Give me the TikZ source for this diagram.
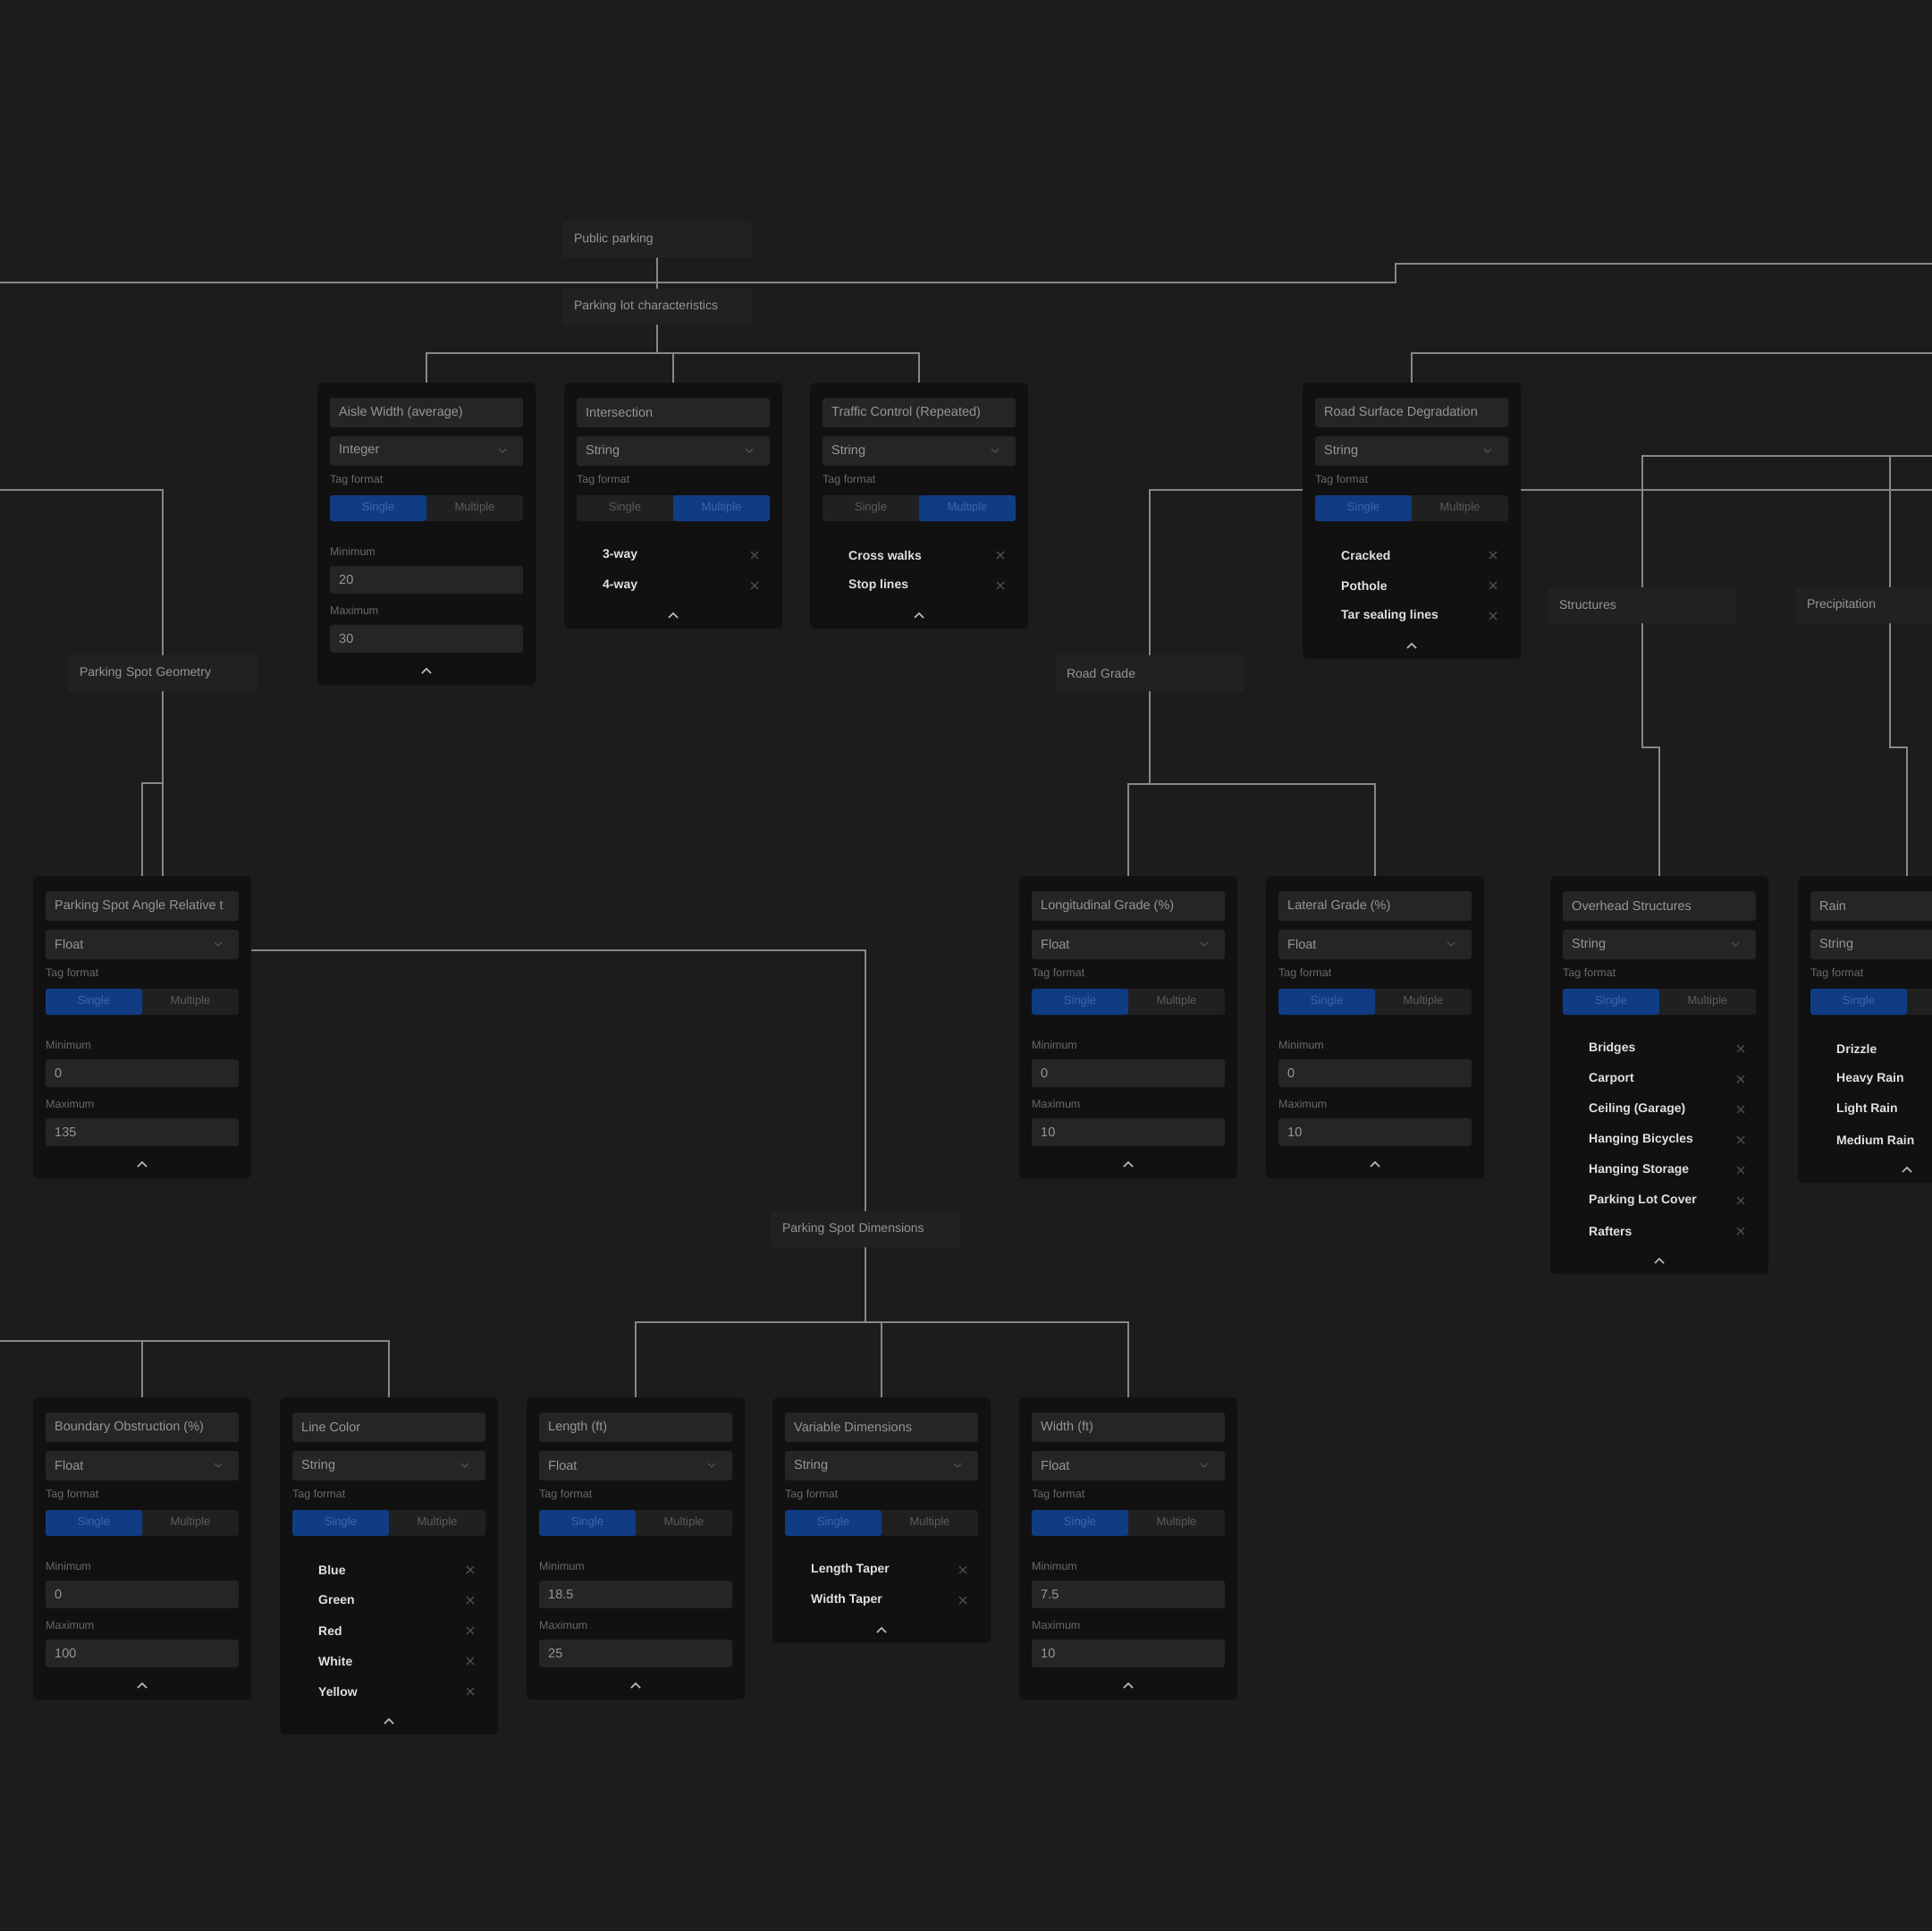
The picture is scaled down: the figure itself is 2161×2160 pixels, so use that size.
\documentclass[tikz,border=0pt]{standalone}
\usepackage{fontspec}
\setmainfont{Liberation Sans}
\usetikzlibrary{positioning,calc,backgrounds}
\definecolor{CanvasBg}{RGB}{28,28,28}
\definecolor{CardFill}{RGB}{17,17,17}
\definecolor{FieldFill}{RGB}{37,37,37}
\definecolor{ToggleFill}{RGB}{32,32,32}
\definecolor{SelBlue}{RGB}{16,60,132}
\definecolor{SelText}{RGB}{62,102,170}
\definecolor{OffText}{RGB}{92,92,92}
\definecolor{FieldText}{RGB}{150,150,150}
\definecolor{LabelGray}{RGB}{105,105,105}
\definecolor{ItemWhite}{RGB}{225,225,225}
\definecolor{MarkGray}{RGB}{80,80,80}
\definecolor{CaretGray}{RGB}{185,185,185}
\definecolor{WireGray}{RGB}{135,135,135}
\definecolor{GroupFill}{RGB}{33,33,33}
\definecolor{GroupBorder}{RGB}{44,44,44}
\tikzset{
  wire/.style={draw=WireGray, line width=2pt},
  groupbox/.style={draw=GroupBorder, fill=GroupFill, rounded corners=3pt,
                text width=186pt, align=left, inner xsep=12pt, inner ysep=0pt, minimum height=40pt,
                font=\fontsize{14}{16}\selectfont, text=FieldText},
  card/.style={fill=CardFill, rounded corners=6pt, minimum width=244pt, inner sep=0pt, anchor=north west},
  fieldtext/.style={font=\fontsize{14.5}{17}\selectfont, text=FieldText, anchor=west, inner sep=0pt},
  smalllabel/.style={font=\fontsize{12.5}{14}\selectfont, text=LabelGray, anchor=west, inner sep=0pt},
  toggletext/.style={font=\fontsize{13}{15}\selectfont, inner sep=0pt},
  itemtext/.style={font=\bfseries\fontsize{14}{16}\selectfont, text=ItemWhite, anchor=west, inner sep=0pt},
  xmark/.style={draw=MarkGray, line width=1.1pt},
  caretmark/.style={draw=CaretGray, line width=1.6pt},
}
% card top part: name, height, title, type, selected toggle (0 single, 1 multiple)
\newcommand{\cardhead}[5]{%
  \node[card, minimum height=#2 pt] (#1) at (0,0) {};
  \fill[FieldFill, rounded corners=3pt] (14,17) rectangle (230,50);
  \begin{scope}
    \clip (14,17) rectangle (226,50);
    \node[fieldtext] at (24,33.5) {#3};
  \end{scope}
  \fill[FieldFill, rounded corners=3pt] (14,60) rectangle (230,93);
  \node[fieldtext] at (24,76.5) {#4};
  \draw[xmark] (203,74) -- (207,78) -- (211,74);
  \node[smalllabel] at (14,109) {Tag format};
  \fill[ToggleFill, rounded corners=3pt] (14,126) rectangle (230,155);
  \fill[SelBlue, rounded corners=3pt] ({14+108*#5},126) rectangle ({122+108*#5},155);
  \ifnum#5=0
    \node[toggletext, text=SelText] at (68,140.5) {Single};
    \node[toggletext, text=OffText] at (176,140.5) {Multiple};
  \else
    \node[toggletext, text=OffText] at (68,140.5) {Single};
    \node[toggletext, text=SelText] at (176,140.5) {Multiple};
  \fi
}
% number card: name, left, top, title, type, minimum, maximum
\newcommand{\numcard}[7]{%
  \begin{scope}[shift={(#2,#3)}]
    \cardhead{#1}{338}{#4}{#5}{0}
    \node[smalllabel] at (14,189) {Minimum};
    \fill[FieldFill, rounded corners=3pt] (14,205) rectangle (230,236);
    \node[fieldtext] at (24,220.5) {#6};
    \node[smalllabel] at (14,255) {Maximum};
    \fill[FieldFill, rounded corners=3pt] (14,271) rectangle (230,302);
    \node[fieldtext] at (24,286.5) {#7};
    \draw[caretmark] (117,325) -- (122,320) -- (127,325);
  \end{scope}
}
% list card: name, left, top, title, type, selected toggle, entries
\newcommand{\listcard}[7]{%
  \gdef\nitems{0}%
  \foreach \entry in {#7}{\xdef\nitems{\the\numexpr\nitems+1\relax}}%
  \pgfmathsetmacro{\cardH}{207+34*\nitems}%
  \begin{scope}[shift={(#2,#3)}]
    \cardhead{#1}{\cardH}{#4}{#5}{#6}
    \foreach \entry [count=\i from 0] in {#7}{
      \node[itemtext] at (43,{193+34*\i}) {\entry};
      \draw[xmark] (209,{189+34*\i}) -- (217,{197+34*\i})
                   (209,{197+34*\i}) -- (217,{189+34*\i});
    }
    \draw[caretmark] (117,{195+34*\nitems}) -- (122,{190+34*\nitems}) -- (127,{195+34*\nitems});
  \end{scope}
}

\begin{document}
\begin{tikzpicture}[x=1pt, y=-1pt]

  \useasboundingbox (0,0) rectangle (2161,2160);
  \begin{scope}[on background layer]
    \fill[CanvasBg] (0,0) rectangle (2161,2160);
  \end{scope}

  % group labels
  \node[groupbox] (pubpark)   at (735,268)  {Public parking};
  \node[groupbox] (lotchar)   at (735,343)  {Parking lot characteristics};
  \node[groupbox] (psgeom)    at (182,753)  {Parking Spot Geometry};
  \node[groupbox] (roadgrade) at (1286,753) {Road Grade};
  \node[groupbox] (structs)   at (1837,677) {Structures};
  \node[groupbox] (precip)    at (2114,677) {Precipitation};
  \node[groupbox] (psdim)     at (968,1375) {Parking Spot Dimensions};

  % first row
  \numcard{aisle}{355}{428}{Aisle Width (average)}{Integer}{20}{30}
  \listcard{inter}{631}{428}{Intersection}{String}{1}{3-way,4-way}
  \listcard{traffic}{906}{428}{Traffic Control (Repeated)}{String}{1}{Cross walks,Stop lines}
  \listcard{roadsurf}{1457}{428}{Road Surface Degradation}{String}{0}{Cracked,Pothole,Tar sealing lines}

  % second row
  \numcard{angle}{37}{980}{Parking Spot Angle Relative t}{Float}{0}{135}
  \numcard{longgrade}{1140}{980}{Longitudinal Grade (\%)}{Float}{0}{10}
  \numcard{latgrade}{1416}{980}{Lateral Grade (\%)}{Float}{0}{10}
  \listcard{overhead}{1734}{980}{Overhead Structures}{String}{0}{Bridges,Carport,Ceiling (Garage),Hanging Bicycles,Hanging Storage,Parking Lot Cover,Rafters}
  \listcard{rain}{2011}{980}{Rain}{String}{0}{Drizzle,Heavy Rain,Light Rain,Medium Rain}

  % third row
  \numcard{boundary}{37}{1563}{Boundary Obstruction (\%)}{Float}{0}{100}
  \listcard{linecolor}{313}{1563}{Line Color}{String}{0}{Blue,Green,Red,White,Yellow}
  \numcard{length}{589}{1563}{Length (ft)}{Float}{18.5}{25}
  \listcard{vardim}{864}{1563}{Variable Dimensions}{String}{0}{Length Taper,Width Taper}
  \numcard{width}{1140}{1563}{Width (ft)}{Float}{7.5}{10}

  % bus points and free ends
  \coordinate (topW)      at (0,316);
  \coordinate (topJ)      at (1561,295);
  \coordinate (topE)      at (2161,295);
  \coordinate (lotbus)    at (735,395);
  \coordinate (rsbus)     at (2161,395);
  \coordinate (psgW)      at (0,548);
  \coordinate (psgbus)    at (182,876);
  \coordinate (rgE)       at (2161,548);
  \coordinate (rgbus)     at (1286,877);
  \coordinate (envE)      at (2161,510);
  \coordinate (structjog) at (1837,836);
  \coordinate (precipjog) at (2114,836);
  \coordinate (psdW)      at (281,1063);
  \coordinate (psdbus)    at (968,1479);
  \coordinate (blW)       at (0,1500);

  \begin{scope}[on background layer]
    \draw[wire] (topW) -| (topJ) -- (topE);
    \draw[wire] (pubpark.south) -- (lotchar.north);
    \draw[wire] (lotchar.south) -- (lotbus);
    \draw[wire] (aisle.north) |- (traffic.north |- lotbus) -- (traffic.north);
    \draw[wire] (inter.north) -- (inter.north |- lotbus);
    \draw[wire] (roadsurf.north) |- (rsbus);

    \draw[wire] (psgW) -| (psgeom.north);
    \draw[wire] (psgeom.south) -- (psgeom.south |- angle.north);
    \draw[wire] (psgbus) -| (angle.north);

    \draw[wire] (rgE) -| (roadgrade.north);
    \draw[wire] (roadgrade.south) -- (rgbus);
    \draw[wire] (longgrade.north) |- (latgrade.north |- rgbus) -- (latgrade.north);

    \draw[wire] (envE) -| (structs.north);
    \draw[wire] (precip.north) -- (precip.north |- envE);
    \draw[wire] (structs.south) -- (structjog) -| (overhead.north);
    \draw[wire] (precip.south) -- (precipjog) -| (rain.north);

    \draw[wire] (psdW) -| (psdim.north);
    \draw[wire] (psdim.south) -- (psdbus);
    \draw[wire] (length.north) |- (width.north |- psdbus) -- (width.north);
    \draw[wire] (vardim.north) -- (vardim.north |- psdbus);

    \draw[wire] (blW) -| (linecolor.north);
    \draw[wire] (boundary.north) -- (boundary.north |- blW);
  \end{scope}

\end{tikzpicture}
\end{document}
